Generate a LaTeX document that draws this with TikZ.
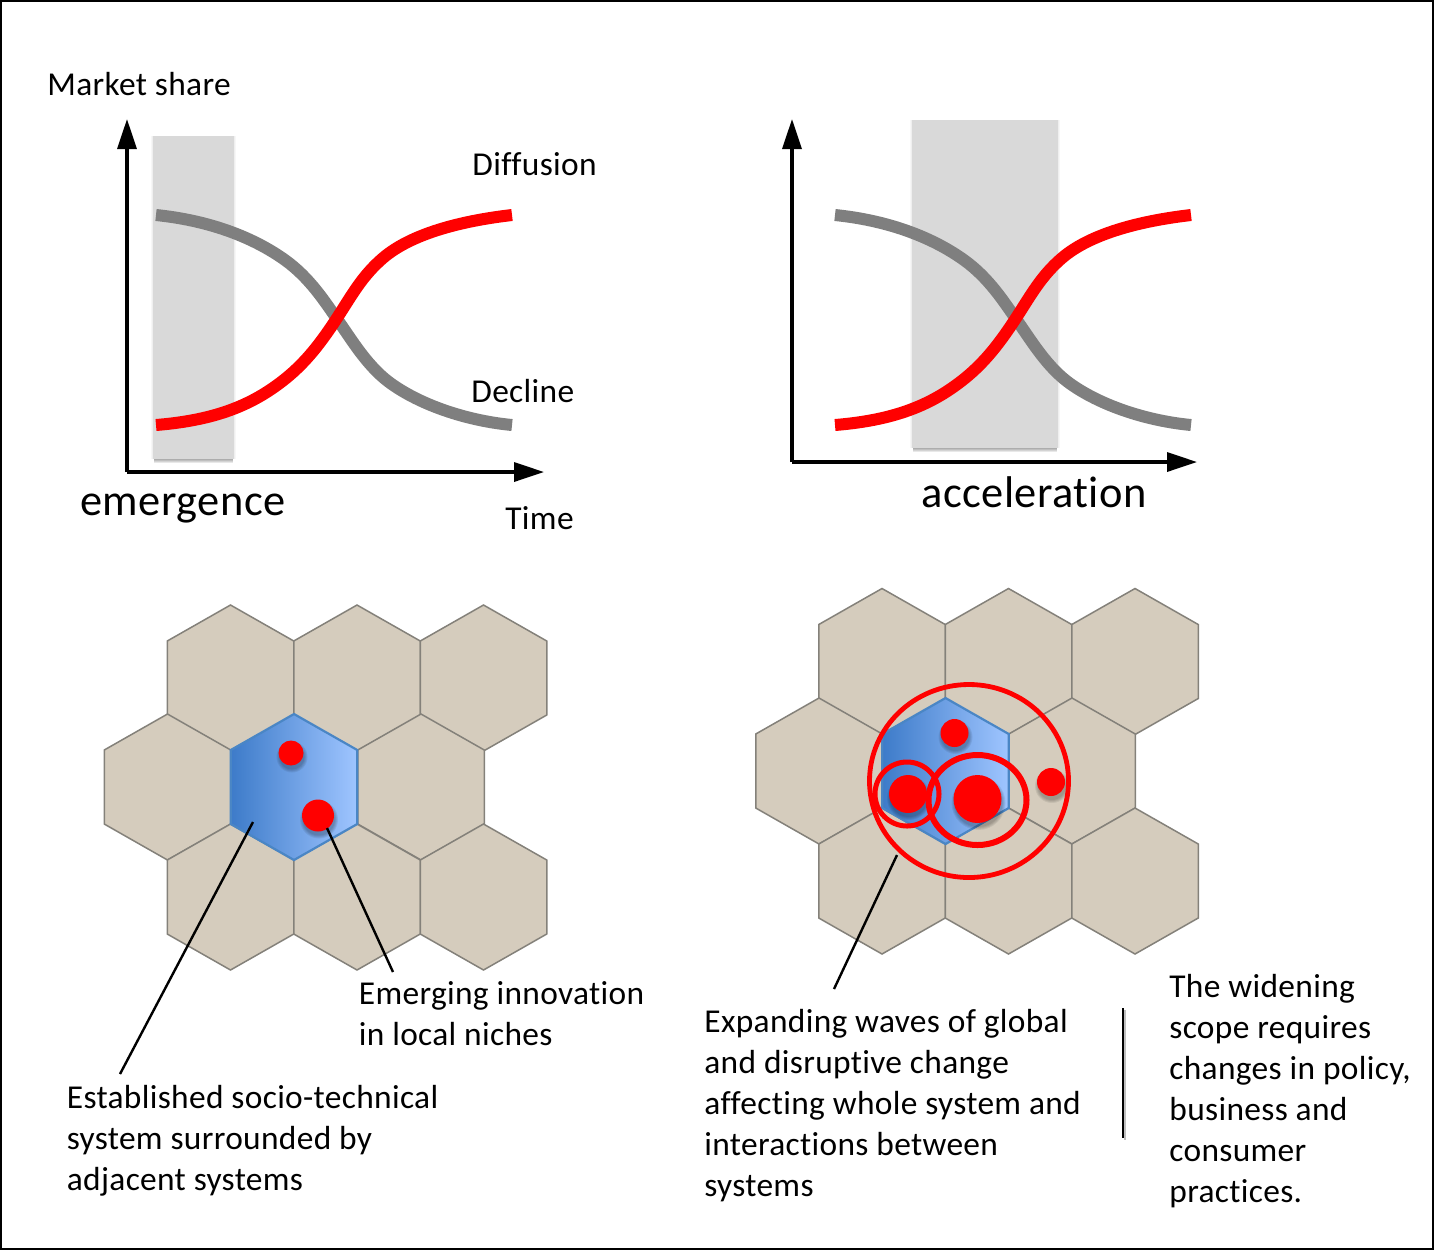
\documentclass[tikz,border=0pt]{standalone}
\usepackage{fontspec}
\setmainfont{Carlito}[Ligatures=NoCommon,LetterSpace=1.0]
\usetikzlibrary{arrows.meta}
\definecolor{hextan}{HTML}{D5CCBD}
\definecolor{hexline}{HTML}{84817A}
\definecolor{bandgray}{HTML}{D9D9D9}
\definecolor{curvegray}{HTML}{7F7F7F}
\definecolor{bluedark}{HTML}{3D7BC9}
\definecolor{bluelight}{HTML}{9FC5FF}
\definecolor{blueline}{HTML}{4A86C5}
\newcommand{\hexshape}[2]{(#1,#2-73) -- (#1+63.25,#2-37) -- (#1+63.25,#2+37) -- (#1,#2+73) -- (#1-63.25,#2+37) -- (#1-63.25,#2-37) -- cycle}
\newcommand{\softdot}[3]{%
  \foreach \gr in {6,4,2,0}{\fill[black,opacity=0.07] (#1+1,#2+4) circle[radius=#3+\gr*0.5];}
  \fill[dotred] (#1,#2) circle[radius=#3];}
\colorlet{dotred}{red}
\newcommand{\softband}[4]{%
  \foreach \gr in {2,1}{\fill[black,opacity=0.03] (#1-\gr,#2) rectangle (#3+\gr,#4);}
  \foreach \gr in {4,3,2,1}{\fill[black,opacity=0.09] (#1+1,#4) rectangle (#3-1,#4+\gr);}
  \fill[bandgray] (#1,#2) rectangle (#3,#4);}
\newcommand{\curvepair}[1]{%
  \begin{scope}[shift={(#1,0)}]
  \draw[curveline,curvegray] (156,215) .. controls (205,220) and (250,235) .. (285,260) .. controls (310,278) and (325,302) .. (337,319) .. controls (352,340) and (368,368) .. (393,385) .. controls (425,407) and (470,421) .. (512,425);
  \draw[curveline,red] (156,425) .. controls (205,421) and (240,410) .. (270,390) .. controls (297,372) and (315,352) .. (337,318) .. controls (352,295) and (362,276) .. (383,258) .. controls (411,234) and (460,221) .. (512,215);
  \end{scope}}
\tikzset{
  x=0.5pt,y=-0.5pt,
  hexcell/.style={fill=hextan,draw=hexline,line width=0.75pt,line join=miter},
  hexblue/.style={left color=bluedark,right color=bluelight,draw=blueline,line width=1.1pt},
  curveline/.style={line width=6pt},
  axisline/.style={line width=1.7pt,-{Triangle[length=15pt,width=9.5pt]}},
  leader/.style={black,line width=1.2pt},
  ring/.style={draw=red,line width=2.4pt},
  label/.style={inner sep=0pt,anchor=base west,font=\fontsize{16.7pt}{20.5pt}\selectfont},
  biglabel/.style={inner sep=0pt,anchor=base west,font=\fontsize{22.2pt}{26pt}\selectfont},
  para/.style={inner sep=0pt,anchor=north west,align=left,font=\fontsize{16.7pt}{20.5pt}\selectfont},
}
\begin{document}
\begin{tikzpicture}
\useasboundingbox (0,0) rectangle (1434,1250);
\fill[white] (0,0) rectangle (1434,1250);
% bands
\softband{153}{136}{234}{459}
\softband{912}{120}{1058}{448}
% axes
\coordinate (o1) at (127,472);
\coordinate (y1) at (127,119);
\coordinate (x1) at (544,472);
\coordinate (o2) at (792,462);
\coordinate (y2) at (792,119);
\coordinate (x2) at (1197,462);
\draw[axisline] (o1) -- (y1);
\draw[axisline] (o1) -- (x1);
\draw[axisline] (o2) -- (y2);
\draw[axisline] (o2) -- (x2);
\curvepair{0}
\curvepair{679}
% left hexes
\foreach \cx/\cy in {230.5/678,357/678,483.5/678,167.5/787,421/787,230.5/897,357/897,483.5/897}{
  \draw[hexcell] \hexshape{\cx}{\cy};}
\draw[hexblue] \hexshape{294}{787};
\softdot{291}{753}{12.5}
\softdot{318}{815.5}{16}
% right hexes
\foreach \cx/\cy in {882/661.5,1008.5/661.5,1135/661.5,819/771,1072/771,882/881,1008.5/881,1135/881}{
  \draw[hexcell] \hexshape{\cx}{\cy};}
\draw[hexblue] \hexshape{945.5}{771};
\softdot{954.5}{733}{14}
\softdot{1051}{782}{14}
\softdot{908}{794}{19}
\softdot{977.5}{799}{24}
\draw[ring] (969,781) circle[x radius=99.5,y radius=96.5];
\draw[ring,line width=2.5pt] (907,794) circle[radius=32];
\draw[ring,line width=3pt] (977.5,800) circle[x radius=49,y radius=45];
% leaders
\coordinate (l1a) at (253,822);
\coordinate (l1b) at (120,1074);
\coordinate (l2a) at (327,828);
\coordinate (l2b) at (393,972);
\coordinate (l3a) at (897,855);
\coordinate (l3b) at (834,989);
\coordinate (l4a) at (1123,1008);
\coordinate (l4b) at (1123,1138);
\draw[leader] (l1a) -- (l1b);
\draw[leader] (l2a) -- (l2b);
\draw[leader] (l3a) -- (l3b);
\draw[black!25,line width=1.2pt] ([xshift=1pt,yshift=-1pt]l4a) -- ([xshift=1pt,yshift=-1pt]l4b);
\draw[leader] (l4a) -- (l4b);
% labels
\node[label] (market) at (47,95) {Market share};
\node[label] (diff) at (472,175) {Diffusion};
\node[label] (decl) at (471,402) {Decline};
\node[label] (time) at (505,529) {Time};
\node[biglabel] (emer) at (80,515) {emergence};
\node[biglabel] (accel) at (921,507) {acceleration};
\node[para] (t1) at (358.5,981) {Emerging innovation\\in local niches};
\node[para] (t2) at (66.5,1085) {Established socio-technical\\system surrounded by\\adjacent systems};
\node[para] (t3) at (704,1009) {Expanding waves of global\\and disruptive change\\affecting whole system and\\interactions between\\systems};
\node[para] (t4) at (1169,974) {The widening\\scope requires\\changes in policy,\\business and\\consumer\\practices.};
\draw[black,line width=1.2pt] (1,1) rectangle (1433,1249);
\end{tikzpicture}
\end{document}
